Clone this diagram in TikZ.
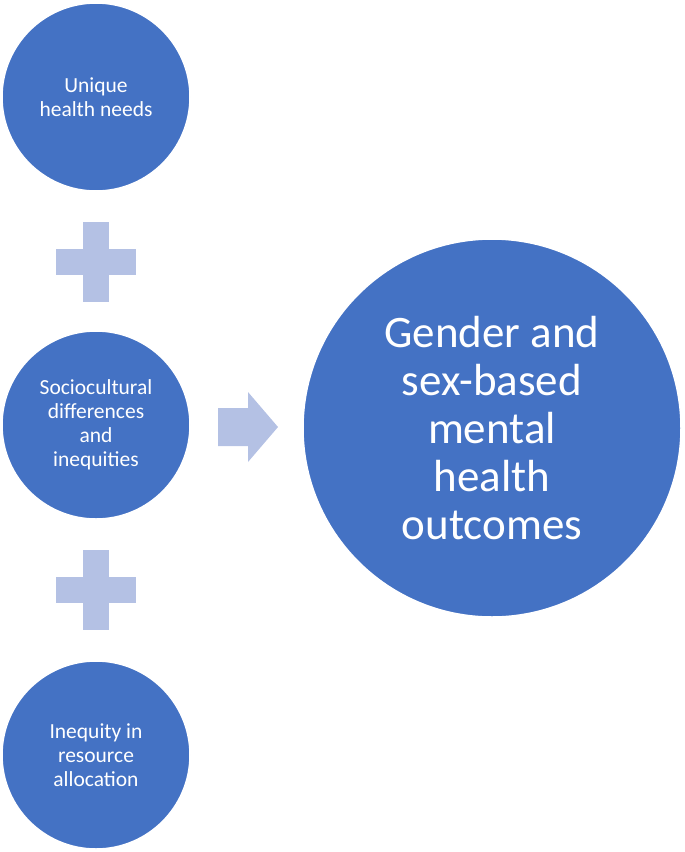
\documentclass[tikz,border=0pt]{standalone}
\usepackage{fontspec}
\setmainfont{Carlito}
\definecolor{cblue}{HTML}{4472C4}
\definecolor{lblue}{HTML}{B4C1E4}
\begin{document}
\begin{tikzpicture}[x=1pt,y=-1pt,
  small/.style={circle,fill=cblue,draw=white,line width=1.5pt,minimum size=188pt,inner sep=0pt,text=white,font=\fontsize{21.5}{24}\selectfont,align=center},
  big/.style={circle,fill=cblue,draw=white,line width=1.5pt,minimum size=378pt,inner sep=0pt,text=white,font=\fontsize{45}{48}\selectfont,align=center},
  plusbar/.style={fill=lblue}]
\useasboundingbox (0,0) rectangle (685,852);
\node[small] (a) at (96,97) {Unique\\health needs};
\node[small] (b) at (96,425) {Sociocultural\\differences\\and\\inequities};
\node[small] (c) at (96,755) {Inequity in\\resource\\allocation};
\node[big] (d) at (492,428) {Gender and\\sex-based\\mental\\health\\outcomes};
\foreach \y/\n in {262/p1,590/p2}{
  \fill[plusbar] (56,\y-13) rectangle (136,\y+13);
  \fill[plusbar] (83,\y-40) rectangle (109,\y+40);
  \coordinate (\n) at (96,\y);
}
\fill[lblue] (218,408) -- (248,408) -- (248,392) -- (278,427) -- (248,462) -- (248,446) -- (218,446) -- cycle;
\end{tikzpicture}
\end{document}
